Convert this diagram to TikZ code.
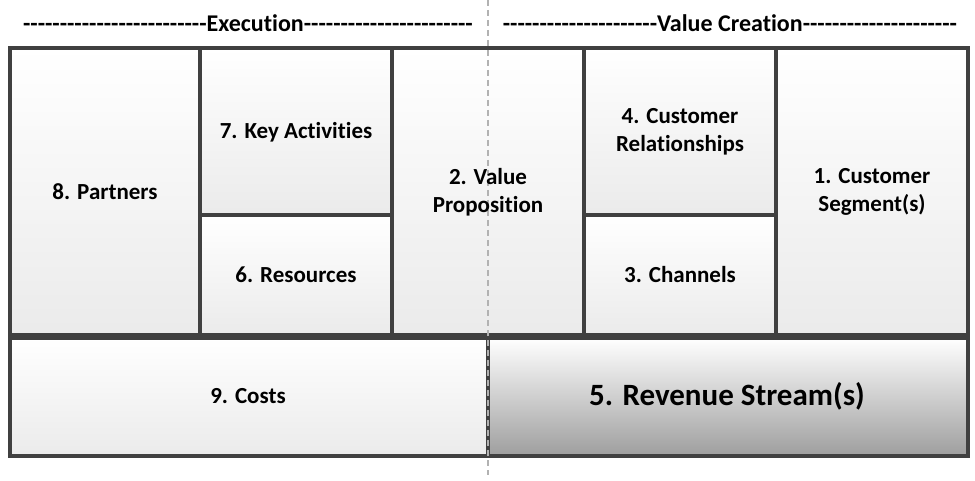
\documentclass[tikz,border=0pt]{standalone}
\usepackage{fontspec}
\setmainfont{Carlito}[Ligatures={NoCommon}]
\newcommand\dd{-\kern0pt}
\newcommand\dfive{\dd\dd\dd\dd\dd}
\begin{document}
\begin{tikzpicture}[x=1pt,y=-1pt,
  blk/.style={draw=black!75,line width=4pt,top color=white,bottom color=black!8},
  lbl/.style={font=\bfseries\fontsize{23}{28}\selectfont,align=center,text=black}]
\useasboundingbox (0,0) rectangle (975,481);
\path[blk] (10,48) rectangle (200,335);
\path[blk] (200,48) rectangle (392,215);
\path[blk] (200,215) rectangle (392,335);
\path[blk] (392,48) rectangle (584,335);
\path[blk] (584,48) rectangle (776,215);
\path[blk] (584,215) rectangle (776,335);
\path[blk] (776,48) rectangle (968,335);
\path[blk] (10,338) rectangle (488,456);
\path[draw=black!75,line width=4pt,top color=white,bottom color=black!38] (488,338) rectangle (968,456);
\draw[black!30,line width=1.5pt,dash pattern=on 6pt off 4pt] (488,0) coordinate (t) -- (488,475) coordinate (b);
\node[lbl] (n8) at (105,192) {8. Partners};
\node[lbl] (n7) at (296,132) {7. Key Activities};
\node[lbl] (n6) at (296,275) {6. Resources};
\node[lbl] (n2) at (488,192) {2. Value\\Proposition};
\node[lbl] (n4) at (680,132) {4. Customer\\Relationships};
\node[lbl] (n3) at (680,275) {3. Channels};
\node[lbl] (n1) at (872,192) {1. Customer\\Segment(s)};
\node[lbl] (n9) at (248,396) {9. Costs};
\node[lbl,font=\bfseries\fontsize{31}{36}\selectfont] (n5) at (727,396) {5. Revenue Stream(s)};
\node[lbl,font=\bfseries\fontsize{24}{28}\selectfont] (h1) at (248,23) {\dfive\dfive\dfive\dfive\dfive Execution\dfive\dfive\dfive\dfive\dd\dd\dd};
\node[lbl,font=\bfseries\fontsize{24}{28}\selectfont] (h2) at (730,23) {\dfive\dfive\dfive\dfive\dd Value Creation\dfive\dfive\dfive\dfive\dd};
\end{tikzpicture}
\end{document}
